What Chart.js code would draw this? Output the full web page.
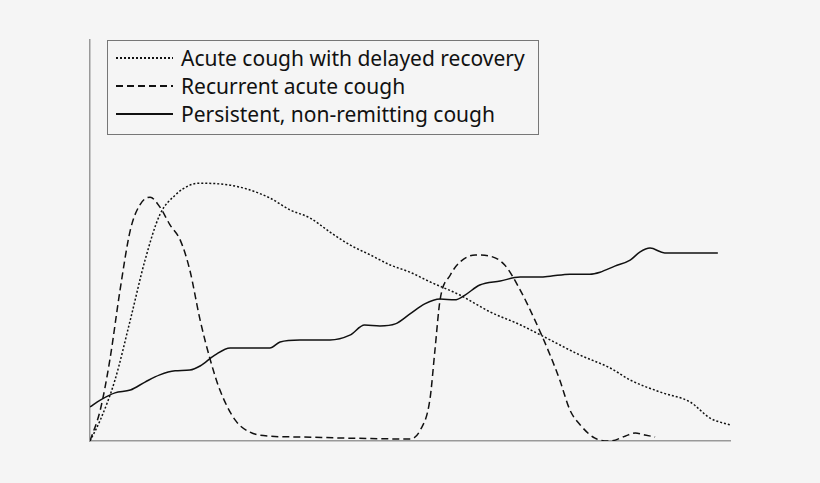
<!DOCTYPE html>
<html><head><meta charset="utf-8">
<script src="https://cdn.jsdelivr.net/npm/chart.js@4"></script>
<style>
body{margin:0;background:#f5f5f5;font-family:"Noto Sans",sans-serif}
#wrap{position:relative;width:820px;height:483px}
#legend{position:absolute;left:107px;top:40px;width:432px;height:95px;border:1px solid #777;box-sizing:border-box;padding:3px 0 0 8px;background:#f5f5f5}
.row{display:flex;align-items:center;height:28px;font-size:21px;color:#111}
.s{width:57px;margin-right:8px;height:1.5px}
</style></head><body>
<div id="wrap"><canvas id="myChart" width="820" height="483"></canvas>
<div id="legend"></div></div>
<script>
const labels = ["Acute cough with delayed recovery", "Recurrent acute cough", "Persistent, non-remitting cough"]
const acuteX = [0,1.6,3.9,6.3,8.6,10.9,13.3,15.6,17.2,21.9,25,28.1,31.3,34.4,37.5,40.6,43.8,46.9,50,53.1,57.8,62.5,67.2,71.9,76.6,81.3,84.4,89.1,93.8,96.9,100]
const acuteY = [0,5.2,15.2,30.2,45.1,56.4,61.3,63.8,64.3,63.8,62.6,60.6,57.6,55.6,52.1,48.9,46.4,43.9,42.1,39.7,36.4,32.2,29,25.2,21.4,18.2,15.2,12.2,9.7,5.7,4]
const recurX = [0,1.6,3.1,4.7,6.3,7.8,9.4,10.9,12.5,14.1,15.6,17.2,18.8,20.3,22.7,25,28.1,32.8,40.6,50,51.6,53.1,53.9,54.7,56.3,57.8,60.2,62.5,64.8,67.2,69.5,71.9,73.4,75,76.6,78.9,81.3,83.6,85.2,86.7,88.3]
const recurY = [0,7.7,20.2,37.7,52.6,58.9,60.8,58.4,53.9,50.1,42.6,30.2,20.2,12.7,5.2,2.2,1.2,1,0.7,0.5,2.7,10.2,22.7,35.2,41.4,44.6,46.4,46.1,43.9,37.7,30.2,21.4,15.2,7.7,4,0.7,0,1.2,2,1.5,1]
const persX = [0,1.6,3.9,6.3,8.6,10.9,13.3,15.6,17.2,19.5,21.9,25,28.1,29.7,32.8,37.5,40.6,42.9,45.3,47.7,50,52.3,54.7,57,58.6,60.9,64.1,67.2,70.3,71.9,75,78.1,79.7,82,84.4,85.9,87.5,89.8,95.3,98.1]
const persY = [8.5,10.2,12,12.7,14.7,16.5,17.5,17.7,18.7,21.4,23.2,23.2,23.2,24.7,25.2,25.2,26.4,28.9,28.7,29.2,31.7,34.2,35.4,35.2,36.4,38.9,39.9,40.9,40.9,41.1,41.6,41.6,42.1,43.6,45.1,47.1,48.1,46.9,46.9,46.9]
const dashes = [[2,2],[7,4],[]]

const pts = (xs, ys) => xs.map((x, i) => ({x: x, y: ys[i]}))
const series = [pts(acuteX, acuteY), pts(recurX, recurY), pts(persX, persY)]

const legendElem = document.getElementById("legend")
labels.forEach((l, i) => {
    const d = dashes[i]
    const bg = d.length ? `repeating-linear-gradient(90deg,#111 0 ${d[0]}px,transparent ${d[0]}px ${d[0] + d[1]}px)` : '#111'
    legendElem.innerHTML += `<div class="row"><span class="s" style="background:${bg}"></span>${l}</div>`
})

new Chart(document.getElementById("myChart"), {
    type: 'line',
    data: {
        datasets: series.map((d, i) => ({
            label: labels[i],
            data: d,
            borderColor: '#111',
            borderWidth: 1.5,
            borderDash: dashes[i],
            pointRadius: 0,
            cubicInterpolationMode: 'monotone'
        }))
    },
    options: {
        responsive: false,
        animation: false,
        layout: { padding: { left: 82, top: 40, right: 90, bottom: 34 } },
        plugins: { legend: { display: false }, tooltip: { enabled: false } },
        scales: {
            x: { type: 'linear', min: 0, max: 100, ticks: { display: false }, grid: { display: false }, border: { color: '#999', width: 1.5 } },
            y: { min: 0, max: 100, ticks: { display: false }, grid: { display: false }, border: { color: '#999', width: 1.5 } }
        }
    }
})
</script>
</body></html>
